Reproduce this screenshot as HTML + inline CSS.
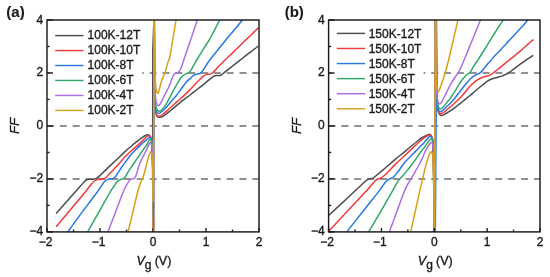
<!DOCTYPE html>
<html><head><meta charset="utf-8"><style>
html,body{margin:0;padding:0;background:#fff;}
svg{display:block;}
.t{font-family:"Liberation Sans", Arial, sans-serif;font-size:12px;fill:#1a1a1a;stroke:#1a1a1a;stroke-width:0.35px;}
</style></head><body>
<svg width="550" height="277" viewBox="0 0 550 277">
<rect width="550" height="277" fill="#fff"/>
<line x1="47" y1="72.97" x2="259" y2="72.97" stroke="#6e6e6e" stroke-width="1.5" stroke-dasharray="7 5.83"/>
<line x1="47" y1="125.95" x2="259" y2="125.95" stroke="#6e6e6e" stroke-width="1.5" stroke-dasharray="7 5.83"/>
<line x1="47" y1="178.93" x2="259" y2="178.93" stroke="#6e6e6e" stroke-width="1.5" stroke-dasharray="7 5.83"/>
<polyline points="153.3,231.9 152.7,130 152.8,50 153.9,20" fill="none" stroke="#4d4d4d" stroke-width="1.5"/>
<path d="M56.10,213.40 C59.28,209.83 70.47,197.32 75.20,192.00 C79.93,186.68 82.45,183.57 84.50,181.50 C86.55,179.43 86.42,179.98 87.50,179.60 C88.58,179.22 89.83,179.28 91.00,179.20 C92.17,179.12 93.50,179.27 94.50,179.10 C95.50,178.93 96.08,178.80 97.00,178.20 C97.92,177.60 98.67,176.77 100.00,175.50 C101.33,174.23 103.33,172.20 105.00,170.60 C106.67,169.00 107.83,167.95 110.00,165.90 C112.17,163.85 115.50,160.68 118.00,158.30 C120.50,155.92 122.67,153.73 125.00,151.60 C127.33,149.47 129.83,147.32 132.00,145.50 C134.17,143.68 136.25,142.07 138.00,140.70 C139.75,139.33 141.25,138.17 142.50,137.30 C143.75,136.43 144.65,135.92 145.50,135.50 C146.35,135.08 146.92,134.80 147.60,134.80 C148.28,134.80 149.03,134.92 149.60,135.50 C150.17,136.08 150.63,137.05 151.00,138.30 C151.37,139.55 151.67,142.22 151.80,143.00 L151.80,143.00 L152.60,170.00 L153.30,231.90" fill="none" stroke="#4d4d4d" stroke-width="1.5" stroke-linejoin="round" stroke-linecap="butt"/>
<path d="M154.00,20.00 L154.50,90.00 L155.20,108.00 L155.20,108.00 C155.43,109.27 155.83,114.05 156.60,115.60 C157.37,117.15 158.73,117.17 159.80,117.30 C160.87,117.43 161.30,117.45 163.00,116.40 C164.70,115.35 167.17,113.30 170.00,111.00 C172.83,108.70 176.67,105.27 180.00,102.60 C183.33,99.93 187.50,96.92 190.00,95.00 C192.50,93.08 192.50,93.05 195.00,91.10 C197.50,89.15 201.98,85.72 205.00,83.30 C208.02,80.88 211.18,77.88 213.10,76.60 C215.02,75.32 215.23,75.83 216.50,75.60 C217.77,75.37 219.37,75.73 220.70,75.20 C222.03,74.67 222.95,73.58 224.50,72.40 C226.05,71.22 227.50,70.07 230.00,68.10 C232.50,66.13 236.50,62.97 239.50,60.60 C242.50,58.23 245.72,55.67 248.00,53.90 C250.28,52.13 251.48,51.32 253.20,50.00 C254.92,48.68 257.45,46.67 258.30,46.00" fill="none" stroke="#4d4d4d" stroke-width="1.5" stroke-linejoin="round" stroke-linecap="butt"/>
<polyline points="153.4,231.9 154,20" fill="none" stroke="#f2393c" stroke-width="1.5"/>
<path d="M56.10,226.70 C58.42,223.95 65.13,215.98 70.00,210.20 C74.87,204.42 81.80,196.28 85.30,192.00 C88.80,187.72 89.47,186.33 91.00,184.50 C92.53,182.67 93.33,181.82 94.50,181.00 C95.67,180.18 96.75,179.90 98.00,179.60 C99.25,179.30 100.92,179.37 102.00,179.20 C103.08,179.03 103.67,179.05 104.50,178.60 C105.33,178.15 105.92,177.55 107.00,176.50 C108.08,175.45 109.17,174.25 111.00,172.30 C112.83,170.35 115.67,167.38 118.00,164.80 C120.33,162.22 122.67,159.22 125.00,156.80 C127.33,154.38 129.83,152.25 132.00,150.30 C134.17,148.35 136.17,146.78 138.00,145.10 C139.83,143.42 141.67,141.50 143.00,140.20 C144.33,138.90 145.15,138.07 146.00,137.30 C146.85,136.53 147.43,135.77 148.10,135.60 C148.77,135.43 149.47,135.73 150.00,136.30 C150.53,136.87 150.97,137.72 151.30,139.00 C151.63,140.28 151.88,143.17 152.00,144.00 L152.00,144.00 L152.80,170.00 L153.30,231.90" fill="none" stroke="#f2393c" stroke-width="1.5" stroke-linejoin="round" stroke-linecap="butt"/>
<path d="M154.10,20.00 L154.60,90.00 L155.10,106.00 L155.10,106.00 C155.28,107.30 155.67,112.10 156.20,113.80 C156.73,115.50 157.33,116.00 158.30,116.20 C159.27,116.40 160.27,116.17 162.00,115.00 C163.73,113.83 166.53,111.12 168.70,109.20 C170.87,107.28 173.12,105.17 175.00,103.50 C176.88,101.83 178.17,100.85 180.00,99.20 C181.83,97.55 184.33,95.20 186.00,93.60 C187.67,92.00 188.50,91.12 190.00,89.60 C191.50,88.08 193.33,86.23 195.00,84.50 C196.67,82.77 198.55,80.65 200.00,79.20 C201.45,77.75 202.53,76.60 203.70,75.80 C204.87,75.00 205.80,74.72 207.00,74.40 C208.20,74.08 209.73,74.40 210.90,73.90 C212.07,73.40 212.65,72.72 214.00,71.40 C215.35,70.08 217.28,67.77 219.00,66.00 C220.72,64.23 222.47,62.58 224.30,60.80 C226.13,59.02 228.17,57.07 230.00,55.30 C231.83,53.53 232.80,52.62 235.30,50.20 C237.80,47.78 241.17,44.52 245.00,40.80 C248.83,37.08 256.08,30.05 258.30,27.90" fill="none" stroke="#f2393c" stroke-width="1.5" stroke-linejoin="round" stroke-linecap="butt"/>
<polyline points="153.4,231.9 154,20" fill="none" stroke="#2a78e4" stroke-width="1.5"/>
<path d="M67.90,231.90 C69.42,229.77 73.82,223.48 77.00,219.10 C80.18,214.72 83.65,210.08 87.00,205.60 C90.35,201.12 94.77,195.37 97.10,192.20 C99.43,189.03 99.77,188.37 101.00,186.60 C102.23,184.83 103.42,182.77 104.50,181.60 C105.58,180.43 106.50,180.05 107.50,179.60 C108.50,179.15 109.50,179.12 110.50,178.90 C111.50,178.68 112.58,178.78 113.50,178.30 C114.42,177.82 115.08,177.17 116.00,176.00 C116.92,174.83 118.00,172.83 119.00,171.30 C120.00,169.77 121.00,168.25 122.00,166.80 C123.00,165.35 123.67,164.40 125.00,162.60 C126.33,160.80 128.27,158.08 130.00,156.00 C131.73,153.92 133.73,151.83 135.40,150.10 C137.07,148.37 138.57,146.97 140.00,145.60 C141.43,144.23 142.83,142.97 144.00,141.90 C145.17,140.83 146.17,139.95 147.00,139.20 C147.83,138.45 148.40,137.62 149.00,137.40 C149.60,137.18 150.15,137.30 150.60,137.90 C151.05,138.50 151.40,139.65 151.70,141.00 C152.00,142.35 152.28,145.17 152.40,146.00 L152.40,146.00 L153.10,175.00 L153.30,231.90" fill="none" stroke="#2a78e4" stroke-width="1.5" stroke-linejoin="round" stroke-linecap="butt"/>
<path d="M154.20,20.00 L154.70,90.00 L155.20,104.00 L155.20,104.00 C155.38,105.17 155.72,109.43 156.30,111.00 C156.88,112.57 157.75,113.32 158.70,113.40 C159.65,113.48 160.58,112.70 162.00,111.50 C163.42,110.30 165.53,108.03 167.20,106.20 C168.87,104.37 170.43,102.33 172.00,100.50 C173.57,98.67 174.98,97.23 176.60,95.20 C178.22,93.17 180.13,90.43 181.70,88.30 C183.27,86.17 184.62,84.02 186.00,82.40 C187.38,80.78 188.80,79.73 190.00,78.60 C191.20,77.47 192.23,76.30 193.20,75.60 C194.17,74.90 194.65,74.77 195.80,74.40 C196.95,74.03 198.90,74.08 200.10,73.40 C201.30,72.72 201.68,72.12 203.00,70.30 C204.32,68.48 206.20,65.05 208.00,62.50 C209.80,59.95 211.80,57.55 213.80,55.00 C215.80,52.45 218.13,49.55 220.00,47.20 C221.87,44.85 222.67,43.72 225.00,40.90 C227.33,38.08 231.10,33.78 234.00,30.30 C236.90,26.82 241.00,21.72 242.40,20.00" fill="none" stroke="#2a78e4" stroke-width="1.5" stroke-linejoin="round" stroke-linecap="butt"/>
<polyline points="153.4,231.9 154,20" fill="none" stroke="#33a86a" stroke-width="1.5"/>
<path d="M87.70,231.90 C89.58,228.55 95.27,218.42 99.00,211.80 C102.73,205.18 107.68,196.33 110.10,192.20 C112.52,188.07 112.43,188.60 113.50,187.00 C114.57,185.40 115.58,183.72 116.50,182.60 C117.42,181.48 118.17,180.85 119.00,180.30 C119.83,179.75 120.75,179.57 121.50,179.30 C122.25,179.03 122.83,179.17 123.50,178.70 C124.17,178.23 124.75,177.58 125.50,176.50 C126.25,175.42 126.98,173.85 128.00,172.20 C129.02,170.55 130.27,168.60 131.60,166.60 C132.93,164.60 134.60,162.22 136.00,160.20 C137.40,158.18 138.83,156.18 140.00,154.50 C141.17,152.82 142.00,151.55 143.00,150.10 C144.00,148.65 145.17,147.05 146.00,145.80 C146.83,144.55 147.43,143.63 148.00,142.60 C148.57,141.57 148.95,140.17 149.40,139.60 C149.85,139.03 150.30,138.80 150.70,139.20 C151.10,139.60 151.50,140.53 151.80,142.00 C152.10,143.47 152.38,147.00 152.50,148.00 L152.50,148.00 L153.20,180.00 L153.30,231.90" fill="none" stroke="#33a86a" stroke-width="1.5" stroke-linejoin="round" stroke-linecap="butt"/>
<path d="M154.30,20.00 L154.80,90.00 L155.30,102.00 L155.30,102.00 C155.48,103.08 155.83,106.95 156.40,108.50 C156.97,110.05 157.85,111.05 158.70,111.30 C159.55,111.55 160.28,111.17 161.50,110.00 C162.72,108.83 164.48,106.67 166.00,104.30 C167.52,101.93 169.20,98.38 170.60,95.80 C172.00,93.22 173.17,91.05 174.40,88.80 C175.63,86.55 176.78,84.30 178.00,82.30 C179.22,80.30 180.37,78.25 181.70,76.80 C183.03,75.35 184.80,74.28 186.00,73.60 C187.20,72.92 187.98,73.42 188.90,72.70 C189.82,71.98 190.48,70.95 191.50,69.30 C192.52,67.65 193.68,65.08 195.00,62.80 C196.32,60.52 197.73,58.32 199.40,55.60 C201.07,52.88 203.23,49.33 205.00,46.50 C206.77,43.67 207.55,43.02 210.00,38.60 C212.45,34.18 218.08,23.10 219.70,20.00" fill="none" stroke="#33a86a" stroke-width="1.5" stroke-linejoin="round" stroke-linecap="butt"/>
<polyline points="153.4,231.9 154,20" fill="none" stroke="#ac6fe8" stroke-width="1.5"/>
<path d="M107.90,231.90 C109.08,228.82 112.47,220.02 115.00,213.40 C117.53,206.78 121.02,197.22 123.10,192.20 C125.18,187.18 126.18,185.47 127.50,183.30 C128.82,181.13 129.80,180.03 131.00,179.20 C132.20,178.37 133.70,179.42 134.70,178.30 C135.70,177.18 136.28,174.63 137.00,172.50 C137.72,170.37 138.17,167.83 139.00,165.50 C139.83,163.17 140.83,160.95 142.00,158.50 C143.17,156.05 144.73,153.35 146.00,150.80 C147.27,148.25 148.73,144.37 149.60,143.20 C150.47,142.03 150.70,142.67 151.20,143.80 C151.70,144.93 152.37,148.97 152.60,150.00 L152.60,150.00 L153.40,190.00 L153.30,231.90" fill="none" stroke="#ac6fe8" stroke-width="1.5" stroke-linejoin="round" stroke-linecap="butt"/>
<path d="M154.40,20.00 L154.90,85.00 L155.40,96.00 L155.40,96.00 C155.55,97.08 155.85,100.87 156.30,102.50 C156.75,104.13 157.40,105.63 158.10,105.80 C158.80,105.97 159.42,105.27 160.50,103.50 C161.58,101.73 163.23,97.90 164.60,95.20 C165.97,92.50 167.63,89.62 168.70,87.30 C169.77,84.98 170.28,83.18 171.00,81.30 C171.72,79.42 172.33,77.32 173.00,76.00 C173.67,74.68 174.25,73.97 175.00,73.40 C175.75,72.83 176.63,73.17 177.50,72.60 C178.37,72.03 179.35,71.53 180.20,70.00 C181.05,68.47 181.75,65.80 182.60,63.40 C183.45,61.00 184.07,59.20 185.30,55.60 C186.53,52.00 188.00,47.73 190.00,41.80 C192.00,35.87 196.08,23.63 197.30,20.00" fill="none" stroke="#ac6fe8" stroke-width="1.5" stroke-linejoin="round" stroke-linecap="butt"/>
<polyline points="153.3,231.9 154,20" fill="none" stroke="#d8a116" stroke-width="1.5"/>
<path d="M128.10,231.90 C128.92,228.50 131.42,218.12 133.00,211.50 C134.58,204.88 136.35,196.95 137.60,192.20 C138.85,187.45 139.60,185.53 140.50,183.00 C141.40,180.47 142.33,178.75 143.00,177.00 C143.67,175.25 143.92,174.58 144.50,172.50 C145.08,170.42 145.83,167.03 146.50,164.50 C147.17,161.97 147.83,159.38 148.50,157.30 C149.17,155.22 149.98,152.63 150.50,152.00 C151.02,151.37 151.25,152.17 151.60,153.50 C151.95,154.83 152.43,158.92 152.60,160.00 L152.60,160.00 L153.20,200.00 L153.30,231.90" fill="none" stroke="#d8a116" stroke-width="1.5" stroke-linejoin="round" stroke-linecap="butt"/>
<path d="M154.50,20.00 L155.00,70.00 L155.50,84.00 L155.50,84.00 C155.65,85.08 156.00,88.95 156.40,90.50 C156.80,92.05 157.38,93.62 157.90,93.30 C158.42,92.98 158.90,90.62 159.50,88.60 C160.10,86.58 160.83,83.30 161.50,81.20 C162.17,79.10 162.90,77.47 163.50,76.00 C164.10,74.53 164.60,73.82 165.10,72.40 C165.60,70.98 166.00,69.27 166.50,67.50 C167.00,65.73 167.48,63.88 168.10,61.80 C168.72,59.72 168.88,61.97 170.20,55.00 C171.52,48.03 175.03,25.83 176.00,20.00" fill="none" stroke="#d8a116" stroke-width="1.5" stroke-linejoin="round" stroke-linecap="butt"/>
<rect x="50" y="25" width="92.3" height="92" fill="#fff"/>
<line x1="55.2" y1="35.6" x2="83.5" y2="35.6" stroke="#4d4d4d" stroke-width="1.45"/>
<text x="87.6" y="39.35" class="t">100K-12T</text>
<line x1="55.2" y1="50.56" x2="83.5" y2="50.56" stroke="#f2393c" stroke-width="1.45"/>
<text x="87.6" y="54.31" class="t">100K-10T</text>
<line x1="55.2" y1="65.52" x2="83.5" y2="65.52" stroke="#2a78e4" stroke-width="1.45"/>
<text x="87.6" y="69.27" class="t">100K-8T</text>
<line x1="55.2" y1="80.48" x2="83.5" y2="80.48" stroke="#33a86a" stroke-width="1.45"/>
<text x="87.6" y="84.23" class="t">100K-6T</text>
<line x1="55.2" y1="95.44" x2="83.5" y2="95.44" stroke="#ac6fe8" stroke-width="1.45"/>
<text x="87.6" y="99.19" class="t">100K-4T</text>
<line x1="55.2" y1="110.4" x2="83.5" y2="110.4" stroke="#d8a116" stroke-width="1.45"/>
<text x="87.6" y="114.15" class="t">100K-2T</text>
<rect x="47" y="20" width="212" height="211.9" fill="none" stroke="#1a1a1a" stroke-width="1.45"/>
<line x1="47" y1="231.9" x2="47" y2="227.9" stroke="#1a1a1a" stroke-width="1.4"/>
<line x1="73.5" y1="231.9" x2="73.5" y2="229.6" stroke="#1a1a1a" stroke-width="1.4"/>
<line x1="100" y1="231.9" x2="100" y2="227.9" stroke="#1a1a1a" stroke-width="1.4"/>
<line x1="126.5" y1="231.9" x2="126.5" y2="229.6" stroke="#1a1a1a" stroke-width="1.4"/>
<line x1="153" y1="231.9" x2="153" y2="227.9" stroke="#1a1a1a" stroke-width="1.4"/>
<line x1="179.5" y1="231.9" x2="179.5" y2="229.6" stroke="#1a1a1a" stroke-width="1.4"/>
<line x1="206" y1="231.9" x2="206" y2="227.9" stroke="#1a1a1a" stroke-width="1.4"/>
<line x1="232.5" y1="231.9" x2="232.5" y2="229.6" stroke="#1a1a1a" stroke-width="1.4"/>
<line x1="259" y1="231.9" x2="259" y2="227.9" stroke="#1a1a1a" stroke-width="1.4"/>
<line x1="47" y1="231.9" x2="53" y2="231.9" stroke="#1a1a1a" stroke-width="1.4"/>
<line x1="47" y1="205.41" x2="49.6" y2="205.41" stroke="#1a1a1a" stroke-width="1.4"/>
<line x1="47" y1="178.93" x2="53" y2="178.93" stroke="#1a1a1a" stroke-width="1.4"/>
<line x1="47" y1="152.44" x2="49.6" y2="152.44" stroke="#1a1a1a" stroke-width="1.4"/>
<line x1="47" y1="125.95" x2="53" y2="125.95" stroke="#1a1a1a" stroke-width="1.4"/>
<line x1="47" y1="99.46" x2="49.6" y2="99.46" stroke="#1a1a1a" stroke-width="1.4"/>
<line x1="47" y1="72.97" x2="53" y2="72.97" stroke="#1a1a1a" stroke-width="1.4"/>
<line x1="47" y1="46.49" x2="49.6" y2="46.49" stroke="#1a1a1a" stroke-width="1.4"/>
<line x1="47" y1="20" x2="53" y2="20" stroke="#1a1a1a" stroke-width="1.4"/>
<line x1="153.5" y1="202" x2="153.5" y2="217.5" stroke="#2a78e4" stroke-width="1.3"/>
<line x1="153.6" y1="217.5" x2="153.6" y2="231.2" stroke="#f2393c" stroke-width="1.3"/>
<text x="43.2" y="23.5" class="t" text-anchor="end">4</text>
<text x="43.2" y="76.47" class="t" text-anchor="end">2</text>
<text x="43.2" y="129.45" class="t" text-anchor="end">0</text>
<text x="43.2" y="182.43" class="t" text-anchor="end">−2</text>
<text x="43.2" y="235.4" class="t" text-anchor="end">−4</text>
<text x="45.5" y="246.2" class="t" text-anchor="middle">−2</text>
<text x="98.5" y="246.2" class="t" text-anchor="middle">−1</text>
<text x="153" y="246.2" class="t" text-anchor="middle">0</text>
<text x="206" y="246.2" class="t" text-anchor="middle">1</text>
<text x="259" y="246.2" class="t" text-anchor="middle">2</text>
<text x="136.4" y="265.1" class="t" style="font-size:12.7px"><tspan font-style="italic">V</tspan><tspan dy="3.4" style="font-size:12px">g</tspan></text>
<text x="154.7" y="265.1" class="t" style="font-size:12.5px">(V)</text>
<text transform="translate(19,125.95) rotate(-90)" class="t" text-anchor="middle" style="font-style:italic;font-size:13.4px">FF</text>
<text x="6.3" y="16.6" class="t" style="font-weight:bold;font-size:15px;stroke-width:0.1px">(a)</text>
<line x1="328.6" y1="72.97" x2="540" y2="72.97" stroke="#6e6e6e" stroke-width="1.5" stroke-dasharray="7 5.83"/>
<line x1="328.6" y1="125.95" x2="540" y2="125.95" stroke="#6e6e6e" stroke-width="1.5" stroke-dasharray="7 5.83"/>
<line x1="328.6" y1="178.93" x2="540" y2="178.93" stroke="#6e6e6e" stroke-width="1.5" stroke-dasharray="7 5.83"/>
<polyline points="434.5,231.9 435.5,20" fill="none" stroke="#4d4d4d" stroke-width="1.5"/>
<path d="M328.60,215.50 C331.83,212.50 342.77,202.37 348.00,197.50 C353.23,192.63 357.00,189.10 360.00,186.30 C363.00,183.50 364.58,181.90 366.00,180.70 C367.42,179.50 367.67,179.47 368.50,179.10 C369.33,178.73 370.20,178.67 371.00,178.50 C371.80,178.33 372.47,178.55 373.30,178.10 C374.13,177.65 374.05,177.45 376.00,175.80 C377.95,174.15 381.83,170.90 385.00,168.20 C388.17,165.50 391.50,162.53 395.00,159.60 C398.50,156.67 402.03,153.87 406.00,150.60 C409.97,147.33 415.80,142.33 418.80,140.00 C421.80,137.67 422.33,137.53 424.00,136.60 C425.67,135.67 427.60,134.57 428.80,134.40 C430.00,134.23 430.53,134.50 431.20,135.60 C431.87,136.70 432.53,140.10 432.80,141.00 L432.80,141.00 L433.60,180.00 L434.30,231.90" fill="none" stroke="#4d4d4d" stroke-width="1.5" stroke-linejoin="round" stroke-linecap="butt"/>
<path d="M436.40,20.00 L436.80,95.00 L437.60,108.00 L437.60,108.00 C437.83,108.93 438.27,112.35 439.00,113.60 C439.73,114.85 440.83,115.52 442.00,115.50 C443.17,115.48 444.67,114.25 446.00,113.50 C447.33,112.75 448.50,111.98 450.00,111.00 C451.50,110.02 453.33,108.83 455.00,107.60 C456.67,106.37 458.33,104.93 460.00,103.60 C461.67,102.27 463.33,100.95 465.00,99.60 C466.67,98.25 468.33,96.90 470.00,95.50 C471.67,94.10 473.33,92.62 475.00,91.20 C476.67,89.78 478.50,88.23 480.00,87.00 C481.50,85.77 482.75,84.77 484.00,83.80 C485.25,82.83 486.33,81.95 487.50,81.20 C488.67,80.45 489.75,79.83 491.00,79.30 C492.25,78.77 493.67,78.40 495.00,78.00 C496.33,77.60 497.83,77.22 499.00,76.90 C500.17,76.58 501.00,76.47 502.00,76.10 C503.00,75.73 503.83,75.30 505.00,74.70 C506.17,74.10 507.50,73.48 509.00,72.50 C510.50,71.52 512.17,70.15 514.00,68.80 C515.83,67.45 518.00,65.85 520.00,64.40 C522.00,62.95 523.78,61.62 526.00,60.10 C528.22,58.58 532.08,56.10 533.30,55.30" fill="none" stroke="#4d4d4d" stroke-width="1.5" stroke-linejoin="round" stroke-linecap="butt"/>
<polyline points="434.5,231.9 435.5,20" fill="none" stroke="#f2393c" stroke-width="1.5"/>
<path d="M328.60,231.50 C331.33,228.55 338.88,220.38 345.00,213.80 C351.12,207.22 360.97,196.70 365.30,192.00 C369.63,187.30 369.38,187.43 371.00,185.60 C372.62,183.77 373.90,182.10 375.00,181.00 C376.10,179.90 376.57,179.50 377.60,179.00 C378.63,178.50 380.13,178.53 381.20,178.00 C382.27,177.47 382.87,176.82 384.00,175.80 C385.13,174.78 386.17,173.77 388.00,171.90 C389.83,170.03 392.50,167.03 395.00,164.60 C397.50,162.17 400.33,159.80 403.00,157.30 C405.67,154.80 408.00,152.45 411.00,149.60 C414.00,146.75 418.58,142.33 421.00,140.20 C423.42,138.07 424.08,137.67 425.50,136.80 C426.92,135.93 428.48,135.08 429.50,135.00 C430.52,134.92 431.02,135.30 431.60,136.30 C432.18,137.30 432.77,140.22 433.00,141.00 L433.00,141.00 L433.80,180.00 L434.30,231.90" fill="none" stroke="#f2393c" stroke-width="1.5" stroke-linejoin="round" stroke-linecap="butt"/>
<path d="M436.30,20.00 L436.70,95.00 L437.40,106.00 L437.40,106.00 C437.58,107.00 437.92,110.70 438.50,112.00 C439.08,113.30 439.98,113.77 440.90,113.80 C441.82,113.83 442.82,113.03 444.00,112.20 C445.18,111.37 446.17,110.37 448.00,108.80 C449.83,107.23 453.00,104.60 455.00,102.80 C457.00,101.00 458.50,99.57 460.00,98.00 C461.50,96.43 462.65,94.98 464.00,93.40 C465.35,91.82 466.85,89.93 468.10,88.50 C469.35,87.07 470.30,86.00 471.50,84.80 C472.70,83.60 473.88,82.35 475.30,81.30 C476.72,80.25 478.38,79.30 480.00,78.50 C481.62,77.70 483.33,77.07 485.00,76.50 C486.67,75.93 488.33,75.92 490.00,75.10 C491.67,74.28 493.33,72.85 495.00,71.60 C496.67,70.35 497.50,69.63 500.00,67.60 C502.50,65.57 506.78,62.03 510.00,59.40 C513.22,56.77 516.58,54.07 519.30,51.80 C522.02,49.53 524.18,47.67 526.30,45.80 C528.42,43.93 530.78,41.60 532.00,40.60 C533.22,39.60 533.33,39.93 533.60,39.80" fill="none" stroke="#f2393c" stroke-width="1.5" stroke-linejoin="round" stroke-linecap="butt"/>
<polyline points="435.3,231.9 436.2,110 436,90 435.5,20" fill="none" stroke="#2a78e4" stroke-width="1.5"/>
<path d="M346.80,231.90 C348.50,229.73 353.47,223.38 357.00,218.90 C360.53,214.42 364.43,209.50 368.00,205.00 C371.57,200.50 375.62,195.57 378.40,191.90 C381.18,188.23 383.27,184.88 384.70,183.00 C386.13,181.12 386.25,181.23 387.00,180.60 C387.75,179.97 388.38,179.63 389.20,179.20 C390.02,178.77 391.13,178.40 391.90,178.00 C392.67,177.60 393.20,177.32 393.80,176.80 C394.40,176.28 394.47,176.20 395.50,174.90 C396.53,173.60 398.57,170.95 400.00,169.00 C401.43,167.05 402.43,165.20 404.10,163.20 C405.77,161.20 408.18,158.88 410.00,157.00 C411.82,155.12 413.33,153.60 415.00,151.90 C416.67,150.20 418.45,148.38 420.00,146.80 C421.55,145.22 423.05,143.77 424.30,142.40 C425.55,141.03 426.50,139.57 427.50,138.60 C428.50,137.63 429.52,136.65 430.30,136.60 C431.08,136.55 431.70,137.23 432.20,138.30 C432.70,139.37 433.12,142.22 433.30,143.00 L433.30,143.00 L434.10,180.00 L434.30,231.90" fill="none" stroke="#2a78e4" stroke-width="1.5" stroke-linejoin="round" stroke-linecap="butt"/>
<path d="M436.20,20.00 L436.60,95.00 L437.30,104.00 L437.30,104.00 C437.48,104.93 437.90,108.32 438.40,109.60 C438.90,110.88 439.53,111.58 440.30,111.70 C441.07,111.82 442.05,111.03 443.00,110.30 C443.95,109.57 444.83,108.45 446.00,107.30 C447.17,106.15 448.50,104.97 450.00,103.40 C451.50,101.83 453.33,99.87 455.00,97.90 C456.67,95.93 458.50,93.53 460.00,91.60 C461.50,89.67 462.75,87.87 464.00,86.30 C465.25,84.73 466.33,83.53 467.50,82.20 C468.67,80.87 469.85,79.40 471.00,78.30 C472.15,77.20 473.32,76.28 474.40,75.60 C475.48,74.92 476.50,74.70 477.50,74.20 C478.50,73.70 479.32,73.55 480.40,72.60 C481.48,71.65 482.73,70.00 484.00,68.50 C485.27,67.00 486.78,65.03 488.00,63.60 C489.22,62.17 490.13,61.23 491.30,59.90 C492.47,58.57 493.42,57.30 495.00,55.60 C496.58,53.90 498.97,51.65 500.80,49.70 C502.63,47.75 504.13,45.93 506.00,43.90 C507.87,41.87 510.00,39.65 512.00,37.50 C514.00,35.35 516.10,33.05 518.00,31.00 C519.90,28.95 521.78,27.03 523.40,25.20 C525.02,23.37 526.98,20.87 527.70,20.00" fill="none" stroke="#2a78e4" stroke-width="1.5" stroke-linejoin="round" stroke-linecap="butt"/>
<polyline points="434.5,231.9 435.5,20" fill="none" stroke="#33a86a" stroke-width="1.5"/>
<path d="M368.70,231.90 C370.58,228.68 376.15,219.23 380.00,212.60 C383.85,205.97 389.22,196.60 391.80,192.10 C394.38,187.60 394.47,187.40 395.50,185.60 C396.53,183.80 397.32,182.33 398.00,181.30 C398.68,180.27 399.10,180.02 399.60,179.40 C400.10,178.78 400.47,178.20 401.00,177.60 C401.53,177.00 401.80,176.97 402.80,175.80 C403.80,174.63 405.55,172.40 407.00,170.60 C408.45,168.80 410.00,166.95 411.50,165.00 C413.00,163.05 414.40,161.15 416.00,158.90 C417.60,156.65 419.60,153.57 421.10,151.50 C422.60,149.43 423.77,148.17 425.00,146.50 C426.23,144.83 427.50,142.75 428.50,141.50 C429.50,140.25 430.33,139.17 431.00,139.00 C431.67,138.83 432.07,139.50 432.50,140.50 C432.93,141.50 433.42,144.25 433.60,145.00 L433.60,145.00 L434.30,185.00 L434.30,231.90" fill="none" stroke="#33a86a" stroke-width="1.5" stroke-linejoin="round" stroke-linecap="butt"/>
<path d="M436.10,20.00 L436.50,92.00 L437.20,101.00 L437.20,101.00 C437.37,101.93 437.68,105.27 438.20,106.60 C438.72,107.93 439.50,108.90 440.30,109.00 C441.10,109.10 442.05,108.10 443.00,107.20 C443.95,106.30 444.83,105.03 446.00,103.60 C447.17,102.17 448.45,100.77 450.00,98.60 C451.55,96.43 453.57,93.30 455.30,90.60 C457.03,87.90 459.03,84.45 460.40,82.40 C461.77,80.35 462.52,79.50 463.50,78.30 C464.48,77.10 465.47,75.98 466.30,75.20 C467.13,74.42 467.77,74.20 468.50,73.60 C469.23,73.00 469.80,72.90 470.70,71.60 C471.60,70.30 472.63,67.83 473.90,65.80 C475.17,63.77 476.58,62.03 478.30,59.40 C480.02,56.77 482.25,53.12 484.20,50.00 C486.15,46.88 488.03,43.87 490.00,40.70 C491.97,37.53 493.80,34.45 496.00,31.00 C498.20,27.55 502.00,21.83 503.20,20.00" fill="none" stroke="#33a86a" stroke-width="1.5" stroke-linejoin="round" stroke-linecap="butt"/>
<polyline points="434.5,231.9 435.4,20" fill="none" stroke="#ac6fe8" stroke-width="1.5"/>
<path d="M389.40,231.90 C390.58,228.67 394.05,219.13 396.50,212.50 C398.95,205.87 402.27,196.75 404.10,192.10 C405.93,187.45 406.38,186.77 407.50,184.60 C408.62,182.43 409.63,181.07 410.80,179.10 C411.97,177.13 413.13,175.15 414.50,172.80 C415.87,170.45 417.75,167.28 419.00,165.00 C420.25,162.72 421.00,161.32 422.00,159.10 C423.00,156.88 423.95,153.88 425.00,151.70 C426.05,149.52 427.25,147.57 428.30,146.00 C429.35,144.43 430.58,142.63 431.30,142.30 C432.02,141.97 432.22,142.72 432.60,144.00 C432.98,145.28 433.43,149.00 433.60,150.00 L433.60,150.00 L434.30,190.00 L434.30,231.90" fill="none" stroke="#ac6fe8" stroke-width="1.5" stroke-linejoin="round" stroke-linecap="butt"/>
<path d="M436.00,20.00 L436.40,88.00 L437.10,96.00 L437.10,96.00 C437.23,96.92 437.45,100.15 437.90,101.50 C438.35,102.85 439.12,104.13 439.80,104.10 C440.48,104.07 441.22,102.57 442.00,101.30 C442.78,100.03 443.52,98.45 444.50,96.50 C445.48,94.55 446.82,91.75 447.90,89.60 C448.98,87.45 449.90,85.53 451.00,83.60 C452.10,81.67 453.33,79.73 454.50,78.00 C455.67,76.27 457.08,74.63 458.00,73.20 C458.92,71.77 459.33,70.77 460.00,69.40 C460.67,68.03 461.17,66.93 462.00,65.00 C462.83,63.07 464.00,60.20 465.00,57.80 C466.00,55.40 466.92,53.23 468.00,50.60 C469.08,47.97 470.33,44.87 471.50,42.00 C472.67,39.13 473.52,37.07 475.00,33.40 C476.48,29.73 479.50,22.23 480.40,20.00" fill="none" stroke="#ac6fe8" stroke-width="1.5" stroke-linejoin="round" stroke-linecap="butt"/>
<polyline points="434.5,231.9 435.3,20" fill="none" stroke="#d8a116" stroke-width="1.5"/>
<path d="M410.80,231.90 C411.50,228.67 413.55,219.13 415.00,212.50 C416.45,205.87 418.33,197.25 419.50,192.10 C420.67,186.95 421.08,185.48 422.00,181.60 C422.92,177.72 424.17,172.15 425.00,168.80 C425.83,165.45 426.33,163.75 427.00,161.50 C427.67,159.25 428.33,156.88 429.00,155.30 C429.67,153.72 430.45,152.33 431.00,152.00 C431.55,151.67 431.92,151.97 432.30,153.30 C432.68,154.63 433.13,158.88 433.30,160.00 L433.30,160.00 L434.00,200.00 L434.30,231.90" fill="none" stroke="#d8a116" stroke-width="1.5" stroke-linejoin="round" stroke-linecap="butt"/>
<path d="M435.90,20.00 L436.10,78.00 L436.70,86.00 L436.70,86.00 C436.80,86.67 437.03,89.03 437.30,90.00 C437.57,90.97 437.93,91.87 438.30,91.80 C438.67,91.73 439.05,90.65 439.50,89.60 C439.95,88.55 440.30,87.53 441.00,85.50 C441.70,83.47 442.95,79.65 443.70,77.40 C444.45,75.15 444.68,74.90 445.50,72.00 C446.32,69.10 447.50,64.50 448.60,60.00 C449.70,55.50 450.53,51.67 452.10,45.00 C453.67,38.33 457.02,24.17 458.00,20.00" fill="none" stroke="#d8a116" stroke-width="1.5" stroke-linejoin="round" stroke-linecap="butt"/>
<rect x="331.5" y="24" width="92.1" height="92" fill="#fff"/>
<line x1="336.8" y1="33.4" x2="365.1" y2="33.4" stroke="#4d4d4d" stroke-width="1.45"/>
<text x="368.7" y="37.7" class="t">150K-12T</text>
<line x1="336.8" y1="48.48" x2="365.1" y2="48.48" stroke="#f2393c" stroke-width="1.45"/>
<text x="368.7" y="52.78" class="t">150K-10T</text>
<line x1="336.8" y1="63.56" x2="365.1" y2="63.56" stroke="#2a78e4" stroke-width="1.45"/>
<text x="368.7" y="67.86" class="t">150K-8T</text>
<line x1="336.8" y1="78.64" x2="365.1" y2="78.64" stroke="#33a86a" stroke-width="1.45"/>
<text x="368.7" y="82.94" class="t">150K-6T</text>
<line x1="336.8" y1="93.72" x2="365.1" y2="93.72" stroke="#ac6fe8" stroke-width="1.45"/>
<text x="368.7" y="98.02" class="t">150K-4T</text>
<line x1="336.8" y1="108.8" x2="365.1" y2="108.8" stroke="#d8a116" stroke-width="1.45"/>
<text x="368.7" y="113.1" class="t">150K-2T</text>
<rect x="328.6" y="20" width="211.4" height="211.9" fill="none" stroke="#1a1a1a" stroke-width="1.45"/>
<line x1="328.6" y1="231.9" x2="328.6" y2="227.9" stroke="#1a1a1a" stroke-width="1.4"/>
<line x1="355.03" y1="231.9" x2="355.03" y2="229.6" stroke="#1a1a1a" stroke-width="1.4"/>
<line x1="381.45" y1="231.9" x2="381.45" y2="227.9" stroke="#1a1a1a" stroke-width="1.4"/>
<line x1="407.88" y1="231.9" x2="407.88" y2="229.6" stroke="#1a1a1a" stroke-width="1.4"/>
<line x1="434.3" y1="231.9" x2="434.3" y2="227.9" stroke="#1a1a1a" stroke-width="1.4"/>
<line x1="460.73" y1="231.9" x2="460.73" y2="229.6" stroke="#1a1a1a" stroke-width="1.4"/>
<line x1="487.15" y1="231.9" x2="487.15" y2="227.9" stroke="#1a1a1a" stroke-width="1.4"/>
<line x1="513.58" y1="231.9" x2="513.58" y2="229.6" stroke="#1a1a1a" stroke-width="1.4"/>
<line x1="540" y1="231.9" x2="540" y2="227.9" stroke="#1a1a1a" stroke-width="1.4"/>
<line x1="328.6" y1="231.9" x2="334.6" y2="231.9" stroke="#1a1a1a" stroke-width="1.4"/>
<line x1="328.6" y1="205.41" x2="331.2" y2="205.41" stroke="#1a1a1a" stroke-width="1.4"/>
<line x1="328.6" y1="178.93" x2="334.6" y2="178.93" stroke="#1a1a1a" stroke-width="1.4"/>
<line x1="328.6" y1="152.44" x2="331.2" y2="152.44" stroke="#1a1a1a" stroke-width="1.4"/>
<line x1="328.6" y1="125.95" x2="334.6" y2="125.95" stroke="#1a1a1a" stroke-width="1.4"/>
<line x1="328.6" y1="99.46" x2="331.2" y2="99.46" stroke="#1a1a1a" stroke-width="1.4"/>
<line x1="328.6" y1="72.97" x2="334.6" y2="72.97" stroke="#1a1a1a" stroke-width="1.4"/>
<line x1="328.6" y1="46.49" x2="331.2" y2="46.49" stroke="#1a1a1a" stroke-width="1.4"/>
<line x1="328.6" y1="20" x2="334.6" y2="20" stroke="#1a1a1a" stroke-width="1.4"/>
<text x="324.8" y="23.5" class="t" text-anchor="end">4</text>
<text x="324.8" y="76.47" class="t" text-anchor="end">2</text>
<text x="324.8" y="129.45" class="t" text-anchor="end">0</text>
<text x="324.8" y="182.43" class="t" text-anchor="end">−2</text>
<text x="324.8" y="235.4" class="t" text-anchor="end">−4</text>
<text x="327.1" y="246.2" class="t" text-anchor="middle">−2</text>
<text x="379.95" y="246.2" class="t" text-anchor="middle">−1</text>
<text x="434.3" y="246.2" class="t" text-anchor="middle">0</text>
<text x="487.15" y="246.2" class="t" text-anchor="middle">1</text>
<text x="540" y="246.2" class="t" text-anchor="middle">2</text>
<text x="417.7" y="265.1" class="t" style="font-size:12.7px"><tspan font-style="italic">V</tspan><tspan dy="3.4" style="font-size:12px">g</tspan></text>
<text x="436" y="265.1" class="t" style="font-size:12.5px">(V)</text>
<text transform="translate(300.6,125.95) rotate(-90)" class="t" text-anchor="middle" style="font-style:italic;font-size:13.4px">FF</text>
<text x="284.7" y="16.6" class="t" style="font-weight:bold;font-size:15px;stroke-width:0.1px">(b)</text>
</svg>
</body></html>
